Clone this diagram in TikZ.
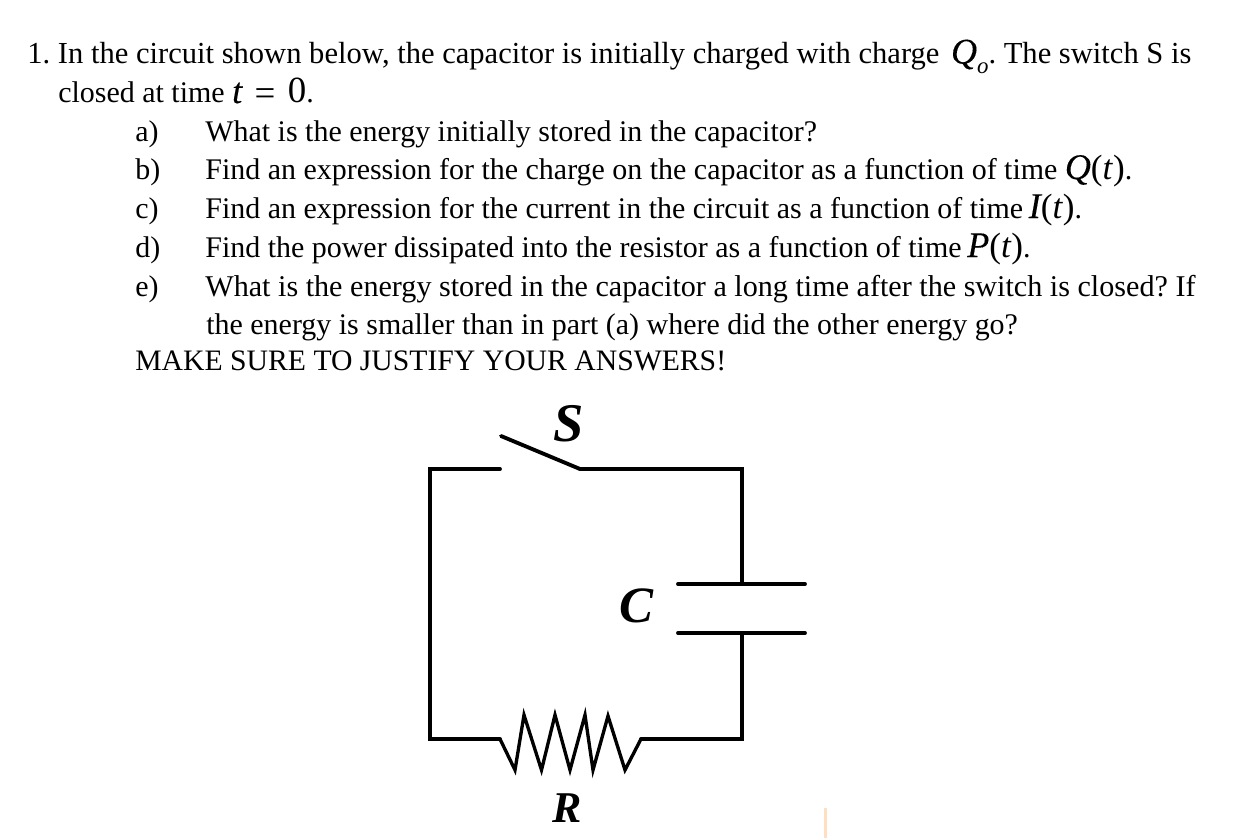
\documentclass[tikz,border=0pt]{standalone}
\usepackage{fontspec}
\setmainfont{Liberation Serif}
\newfontface\varface[FakeBold=0.25]{Liberation Serif Italic}
\newcommand{\bigvar}[1]{{\fontsize{20.5}{20.5}\varface #1}}
\newcommand{\funcof}[1]{\bigvar{#1}{\fontsize{20}{20}\selectfont(\textit{t})}}
\frenchspacing
\begin{document}
\begin{tikzpicture}[
    x=0.02cm, y=-0.02cm,
    % Style for the lines of the question text
    qtext/.style={anchor=base west, inner sep=0pt, font=\fontsize{#1}{20}\selectfont},
    qtext/.default=17.05,
    % Style for the circuit wires
    wire/.style={line width=2.2pt, line cap=round, line join=miter},
    % Style for the circuit letters
    cletter/.style={inner sep=0pt, font=\bfseries\itshape\fontsize{#1}{#1}\selectfont}
]
    \useasboundingbox (0,0) rectangle (1244,838);

    % --- 1. Question Text ---
    \node[qtext=17.4] (q1) at (27,63.5) {1. In the circuit shown below, the capacitor is initially charged with charge\hspace{2.3pt} \bigvar{Q}\raisebox{-0.7ex}{\fontsize{13}{13}\selectfont\textit{o}}. The switch S is};
    \node[qtext] (q2) at (58,103) {closed at time \bigvar{t} \,\raisebox{-1.7pt}{\fontsize{21}{21}\selectfont=}\, {\fontsize{21}{21}\selectfont 0}.};
    \node[qtext] (la) at (135,141) {a)};
    \node[qtext] (ta) at (205,141) {What is the energy initially stored in the capacitor?};
    \node[qtext] (lb) at (135,179) {b)};
    \node[qtext] (tb) at (205,179) {Find an expression for the charge on the capacitor as a function of time \funcof{Q}.};
    \node[qtext] (lc) at (135,218) {c)};
    \node[qtext] (tc) at (205,218) {Find an expression for the current in the circuit as a function of time\hspace{-1pt} \funcof{I}.};
    \node[qtext] (ld) at (135,257) {d)};
    \node[qtext] (td) at (205,257) {Find the power dissipated into the resistor as a function of time\hspace{-1pt} \funcof{P}.};
    \node[qtext] (le) at (135,296) {e)};
    \node[qtext=17.15] (te) at (205,296) {What is the energy stored in the capacitor a long time after the switch is closed? If};
    \node[qtext] (tf) at (206,334) {the energy is smaller than in part (a) where did the other energy go?};
    \node[qtext=16.9] (tg) at (135,370) {MAKE SURE TO JUSTIFY YOUR ANSWERS!};

    % --- 2. Define Coordinates ---
    \coordinate (tl) at (430,469);
    \coordinate (tr) at (742,469);
    \coordinate (bl) at (430,739);
    \coordinate (br) at (742,739);

    \coordinate (sa) at (500,469);
    \coordinate (sb) at (501,436);
    \coordinate (sc) at (580,469);

    \coordinate (ctop) at (742,584);
    \coordinate (cbot) at (742,633);
    \coordinate (pa) at (678,584);
    \coordinate (pb) at (805,584);
    \coordinate (pc) at (678,633);
    \coordinate (pd) at (805,633);

    \coordinate (ra) at (500,739);
    \coordinate (rb) at (641,739);

    % --- 3. Draw Wires ---
    \draw[wire] (sa) -- (tl) -- (bl) -- (ra);
    \draw[wire] (sc) -- (tr) -- (ctop);
    \draw[wire] (cbot) -- (br) -- (rb);

    % Switch
    \draw[wire] (sb) -- (sc);

    % Capacitor plates
    \draw[wire] (pa) -- (pb);
    \draw[wire] (pc) -- (pd);

    % Resistor
    \draw[wire, line cap=butt, line width=1.9pt] (ra) -- (515,770) -- (524,715) -- (541.5,770) -- (555,715) -- (570,770) -- (585,715) -- (593,770) -- (608,716) -- (625,770) -- (rb);

    % --- 4. Draw Labels ---
    \node[cletter=31] (S) at (569,424) {S};
    \node[cletter=29] (C) at (636,606) {C};
    \node[cletter=25] (R) at (567,808) {R};

    % Stray mark at the lower edge
    \fill[orange!25] (823.5,808) rectangle (827,838);

\end{tikzpicture}
\end{document}
